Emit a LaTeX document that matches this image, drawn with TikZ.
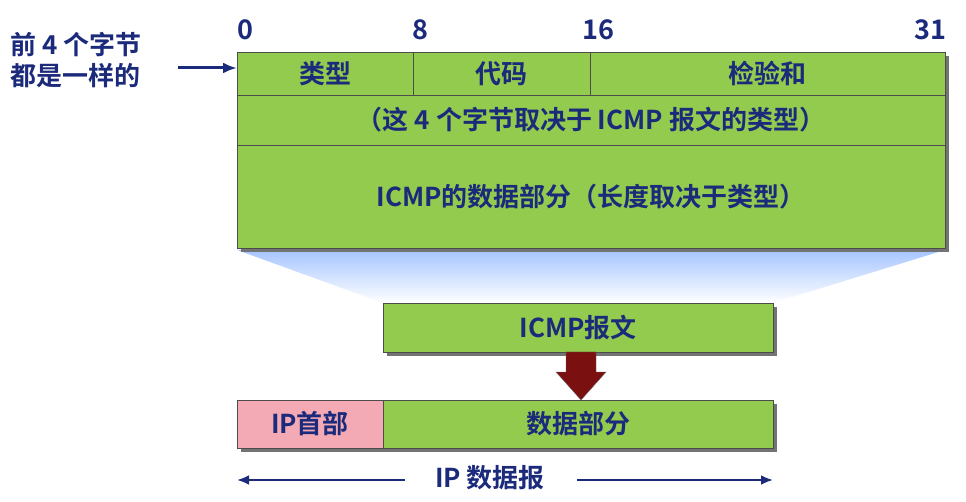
\documentclass[tikz,border=0pt]{standalone}
\usepackage{fontspec}
\setmainfont{Noto Sans CJK SC}[BoldFont={Noto Sans CJK SC Bold}]
\usetikzlibrary{arrows.meta,shadings}
\definecolor{gr}{HTML}{92CB4E}
\definecolor{tx}{HTML}{1B2A7A}
\definecolor{pk}{HTML}{F4AAB4}
\definecolor{dr}{HTML}{7A1010}
\tikzset{
 cell/.style={draw=black!70,fill=gr,line width=0.8pt},
 lab/.style={text=tx,font=\bfseries\fontsize{26}{31}\selectfont},
 num/.style={text=tx,font=\bfseries\fontsize{27}{30}\selectfont},
 shad/.style={fill=black!55}
}
\begin{document}
\begin{tikzpicture}[x=1pt,y=-1pt]
\useasboundingbox (0,0) rectangle (966,502);
% trapezoid
\shade[top color=cyan!35!blue!35,bottom color=white] (237,250) -- (945,250) -- (773,303) -- (383,303) -- cycle;
% shadows
\fill[shad] (241,56) rectangle (949,252);
\fill[shad] (387,307) rectangle (777,356);
\fill[shad] (241,404) rectangle (777,452);
% main box
\draw[cell] (237,52) rectangle (413,95) node[midway,lab] (t1) {类型};
\draw[cell] (413,52) rectangle (590,95) node[midway,lab] (t2) {代码};
\draw[cell] (590,52) rectangle (945,95) node[midway,lab] (t3) {检验和};
\draw[cell] (237,95) rectangle (945,145) node[midway,lab] (t4) {（这 4 个字节取决于 ICMP 报文的类型）};
\draw[cell] (237,145) rectangle (945,248) node[midway,lab] (t5) {ICMP的数据部分（长度取决于类型）};
% numbers
\node[num] (n0) at (245,30) {0};
\node[num] (n8) at (420,30) {8};
\node[num] (n16) at (598,30) {16};
\node[num] (n31) at (930,30) {31};
% left text
\node[lab,align=left,anchor=west,inner sep=0pt] (lt) at (10,60) {前 4 个字节\\都是一样的};
\coordinate (la) at (178,68);
\coordinate (lb) at (237,68);
\draw[-{Latex[length=14pt,width=11pt]},line width=3pt,tx] (la) -- (lb);
% ICMP box
\draw[cell] (383,303) rectangle (773,352) node[midway,lab] (ic) {ICMP报文};
% arrow
\fill[dr,draw=black!60] (566,352) -- (596,352) -- (596,372) -- (606,372) -- (581,400) -- (556,372) -- (566,372) -- cycle;
% bottom
\draw[draw=black!70,fill=pk,line width=0.8pt] (237,400) rectangle (383,448) node[midway,lab] (ip) {IP首部};
\draw[cell] (383,400) rectangle (773,448) node[midway,lab] (dp) {数据部分};
\node[lab] (dg) at (490,478) {IP 数据报};
\coordinate (a1) at (237,480);
\coordinate (a2) at (405,480);
\coordinate (a3) at (577,480);
\coordinate (a4) at (773,480);
\draw[-{Latex[length=12pt,width=10pt]},line width=2.5pt,tx] (a2) -- (a1);
\draw[-{Latex[length=12pt,width=10pt]},line width=2.5pt,tx] (a3) -- (a4);
\end{tikzpicture}
\end{document}
